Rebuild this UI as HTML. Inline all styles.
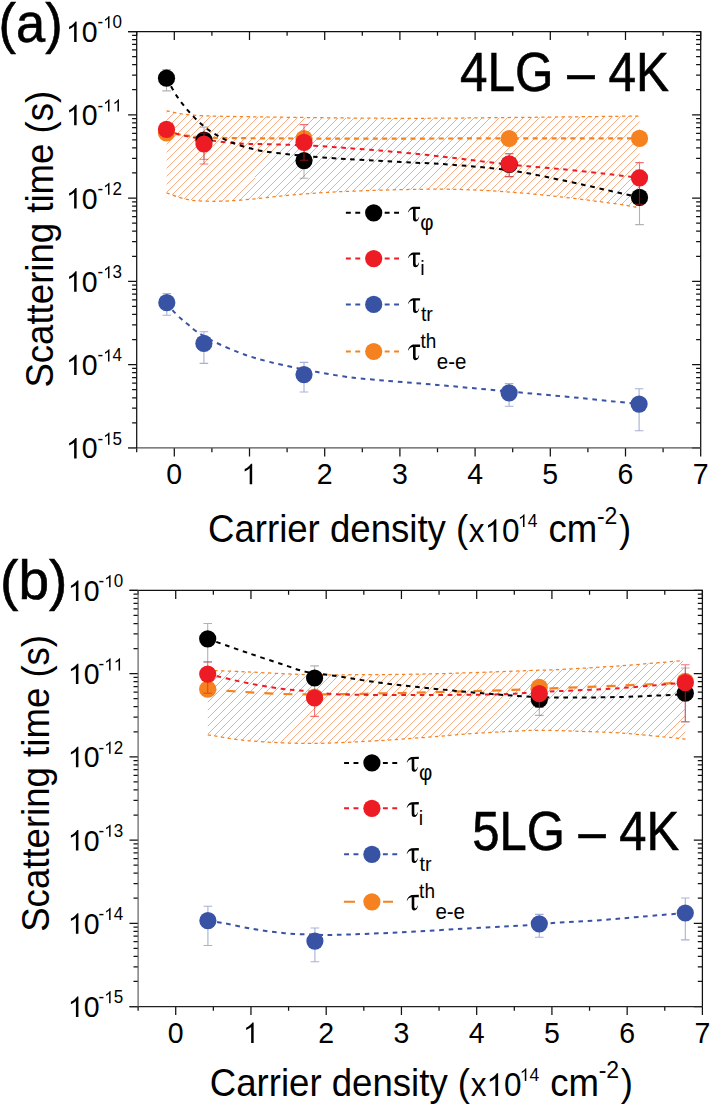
<!DOCTYPE html><html><head><meta charset="utf-8"><style>html,body{margin:0;padding:0;background:#fff;}svg{display:block;}text{font-family:"Liberation Sans", sans-serif;fill:#000;}</style></head><body>
<svg width="711" height="1106" viewBox="0 0 711 1106">
<defs><path id="one" d="M763,0H583V1147C535,1101 472,1055 394,1009C316,963 259,936 223,921V1095C330,1145 424,1206 505,1277C586,1348 643,1413 676,1472H763Z"/></defs>
<path d="M128.10,31.50H136.70 M692.10,31.50H700.70 M132.10,89.71H136.70 M696.10,89.71H700.70 M132.10,75.05H136.70 M696.10,75.05H700.70 M132.10,64.64H136.70 M696.10,64.64H700.70 M132.10,56.57H136.70 M696.10,56.57H700.70 M132.10,49.98H136.70 M696.10,49.98H700.70 M132.10,44.40H136.70 M696.10,44.40H700.70 M132.10,39.57H136.70 M696.10,39.57H700.70 M132.10,35.31H136.70 M696.10,35.31H700.70 M128.10,114.78H136.70 M692.10,114.78H700.70 M132.10,172.99H136.70 M696.10,172.99H700.70 M132.10,158.33H136.70 M696.10,158.33H700.70 M132.10,147.92H136.70 M696.10,147.92H700.70 M132.10,139.85H136.70 M696.10,139.85H700.70 M132.10,133.26H136.70 M696.10,133.26H700.70 M132.10,127.68H136.70 M696.10,127.68H700.70 M132.10,122.85H136.70 M696.10,122.85H700.70 M132.10,118.59H136.70 M696.10,118.59H700.70 M128.10,198.06H136.70 M692.10,198.06H700.70 M132.10,256.27H136.70 M696.10,256.27H700.70 M132.10,241.61H136.70 M696.10,241.61H700.70 M132.10,231.20H136.70 M696.10,231.20H700.70 M132.10,223.13H136.70 M696.10,223.13H700.70 M132.10,216.54H136.70 M696.10,216.54H700.70 M132.10,210.96H136.70 M696.10,210.96H700.70 M132.10,206.13H136.70 M696.10,206.13H700.70 M132.10,201.87H136.70 M696.10,201.87H700.70 M128.10,281.34H136.70 M692.10,281.34H700.70 M132.10,339.55H136.70 M696.10,339.55H700.70 M132.10,324.89H136.70 M696.10,324.89H700.70 M132.10,314.48H136.70 M696.10,314.48H700.70 M132.10,306.41H136.70 M696.10,306.41H700.70 M132.10,299.82H136.70 M696.10,299.82H700.70 M132.10,294.24H136.70 M696.10,294.24H700.70 M132.10,289.41H136.70 M696.10,289.41H700.70 M132.10,285.15H136.70 M696.10,285.15H700.70 M128.10,364.62H136.70 M692.10,364.62H700.70 M132.10,422.83H136.70 M696.10,422.83H700.70 M132.10,408.17H136.70 M696.10,408.17H700.70 M132.10,397.76H136.70 M696.10,397.76H700.70 M132.10,389.69H136.70 M696.10,389.69H700.70 M132.10,383.10H136.70 M696.10,383.10H700.70 M132.10,377.52H136.70 M696.10,377.52H700.70 M132.10,372.69H136.70 M696.10,372.69H700.70 M132.10,368.43H136.70 M696.10,368.43H700.70 M128.10,447.90H136.70 M692.10,447.90H700.70 M136.70,31.50V35.80 M136.70,447.90V452.20 M174.30,31.50V40.10 M174.30,447.90V456.50 M211.90,31.50V35.80 M211.90,447.90V452.20 M249.50,31.50V40.10 M249.50,447.90V456.50 M287.10,31.50V35.80 M287.10,447.90V452.20 M324.70,31.50V40.10 M324.70,447.90V456.50 M362.30,31.50V35.80 M362.30,447.90V452.20 M399.90,31.50V40.10 M399.90,447.90V456.50 M437.50,31.50V35.80 M437.50,447.90V452.20 M475.10,31.50V40.10 M475.10,447.90V456.50 M512.70,31.50V35.80 M512.70,447.90V452.20 M550.30,31.50V40.10 M550.30,447.90V456.50 M587.90,31.50V35.80 M587.90,447.90V452.20 M625.50,31.50V40.10 M625.50,447.90V456.50 M663.10,31.50V35.80 M663.10,447.90V452.20 M700.70,31.50V40.10 M700.70,447.90V456.50" fill="none" stroke="#111" stroke-width="1.25"/>
<path d="M128.10,31.50H700.70V447.90" fill="none" stroke="#111" stroke-width="1.25"/>
<path d="M128.10,447.90H700.70" fill="none" stroke="#555" stroke-width="1.25"/>
<path d="M136.70,31.50V447.90" fill="none" stroke="#111" stroke-width="1.25"/>
<clipPath id="cliphatchA"><path d="M166.60,110.80C171.17,111.53 178.43,114.18 194.00,115.20C209.57,116.22 225.67,116.38 260.00,116.90C294.33,117.42 356.67,118.22 400.00,118.30C443.33,118.38 480.08,117.78 520.00,117.40C559.92,117.02 619.58,116.23 639.50,116.00L639.50,207.90C635.75,207.25 630.58,205.88 617.00,204.00C603.42,202.12 577.67,198.72 558.00,196.60C538.33,194.48 518.67,192.53 499.00,191.30C479.33,190.07 462.50,189.30 440.00,189.20C417.50,189.10 387.00,189.88 364.00,190.70C341.00,191.52 322.67,192.52 302.00,194.10C281.33,195.68 256.00,199.02 240.00,200.20C224.00,201.38 215.17,201.40 206.00,201.20C196.83,201.00 191.57,200.40 185.00,199.00C178.43,197.60 169.67,193.83 166.60,192.80Z"/></clipPath>
<path d="M153.81,108.80L52.71,209.90M161.86,108.80L60.76,209.90M169.90,108.80L68.80,209.90M177.94,108.80L76.84,209.90M185.98,108.80L84.88,209.90M194.03,108.80L92.93,209.90M202.07,108.80L100.97,209.90M210.11,108.80L109.01,209.90M218.16,108.80L117.06,209.90M226.20,108.80L125.10,209.90M234.24,108.80L133.14,209.90M242.29,108.80L141.19,209.90M250.33,108.80L149.23,209.90M258.37,108.80L157.27,209.90M266.41,108.80L165.31,209.90M274.46,108.80L173.36,209.90M282.50,108.80L181.40,209.90M290.54,108.80L189.44,209.90M298.59,108.80L197.49,209.90M306.63,108.80L205.53,209.90M314.67,108.80L213.57,209.90M322.71,108.80L221.61,209.90M330.76,108.80L229.66,209.90M338.80,108.80L237.70,209.90M346.84,108.80L245.74,209.90M354.89,108.80L253.79,209.90M362.93,108.80L261.83,209.90M370.97,108.80L269.87,209.90M379.02,108.80L277.92,209.90M387.06,108.80L285.96,209.90M395.10,108.80L294.00,209.90M403.14,108.80L302.04,209.90M411.19,108.80L310.09,209.90M419.23,108.80L318.13,209.90M427.27,108.80L326.17,209.90M435.32,108.80L334.22,209.90M443.36,108.80L342.26,209.90M451.40,108.80L350.30,209.90M459.45,108.80L358.35,209.90M467.49,108.80L366.39,209.90M475.53,108.80L374.43,209.90M483.57,108.80L382.48,209.90M491.62,108.80L390.52,209.90M499.66,108.80L398.56,209.90M507.70,108.80L406.60,209.90M515.75,108.80L414.65,209.90M523.79,108.80L422.69,209.90M531.83,108.80L430.73,209.90M539.88,108.80L438.78,209.90M547.92,108.80L446.82,209.90M555.96,108.80L454.86,209.90M564.01,108.80L462.91,209.90M572.05,108.80L470.95,209.90M580.09,108.80L478.99,209.90M588.13,108.80L487.03,209.90M596.18,108.80L495.08,209.90M604.22,108.80L503.12,209.90M612.26,108.80L511.16,209.90M620.31,108.80L519.21,209.90M628.35,108.80L527.25,209.90M636.39,108.80L535.29,209.90M644.43,108.80L543.33,209.90M652.48,108.80L551.38,209.90M660.52,108.80L559.42,209.90M668.56,108.80L567.46,209.90M676.61,108.80L575.51,209.90M684.65,108.80L583.55,209.90M692.69,108.80L591.59,209.90M700.74,108.80L599.64,209.90M708.78,108.80L607.68,209.90M716.82,108.80L615.72,209.90M724.87,108.80L623.76,209.90M732.91,108.80L631.81,209.90M740.95,108.80L639.85,209.90" clip-path="url(#cliphatchA)" fill="none" stroke="#F27531" stroke-width="0.6" shape-rendering="crispEdges"/>
<path d="M166.60,110.80C171.17,111.53 178.43,114.18 194.00,115.20C209.57,116.22 225.67,116.38 260.00,116.90C294.33,117.42 356.67,118.22 400.00,118.30C443.33,118.38 480.08,117.78 520.00,117.40C559.92,117.02 619.58,116.23 639.50,116.00" fill="none" stroke="#F5821F" stroke-width="1.25" stroke-dasharray="3.3 3.4"/>
<path d="M166.60,192.80C169.67,193.83 178.43,197.60 185.00,199.00C191.57,200.40 196.83,201.00 206.00,201.20C215.17,201.40 224.00,201.38 240.00,200.20C256.00,199.02 281.33,195.68 302.00,194.10C322.67,192.52 341.00,191.52 364.00,190.70C387.00,189.88 417.50,189.10 440.00,189.20C462.50,189.30 479.33,190.07 499.00,191.30C518.67,192.53 538.33,194.48 558.00,196.60C577.67,198.72 603.42,202.12 617.00,204.00C630.58,205.88 635.75,207.25 639.50,207.90" fill="none" stroke="#F5821F" stroke-width="1.25" stroke-dasharray="3.3 3.4"/>
<path d="M166.50,132.40C170.42,133.00 181.92,135.10 190.00,136.00C198.08,136.90 191.67,137.37 215.00,137.80C238.33,138.23 281.00,138.50 330.00,138.60C379.00,138.70 457.42,138.43 509.00,138.40C560.58,138.37 617.75,138.40 639.50,138.40" fill="none" stroke="#F5821F" stroke-width="2.2" stroke-dasharray="5 4.4"/>
<path d="M166.50,129.30C167.82,129.92 170.70,131.78 174.40,133.00C178.10,134.22 181.53,135.22 188.70,136.60C195.87,137.98 208.23,140.12 217.40,141.30C226.57,142.48 235.32,143.22 243.70,143.70C252.08,144.18 259.32,143.98 267.70,144.20C276.08,144.42 283.62,144.57 294.00,145.00C304.38,145.43 312.33,145.58 330.00,146.80C347.67,148.02 380.00,150.52 400.00,152.30C420.00,154.08 431.83,155.47 450.00,157.50C468.17,159.53 490.67,162.58 509.00,164.50C527.33,166.42 541.50,167.17 560.00,169.00C578.50,170.83 606.75,174.03 620.00,175.50C633.25,176.97 636.25,177.42 639.50,177.80" fill="none" stroke="#ED1C24" stroke-width="2.0" stroke-dasharray="4.6 4.7"/>
<path d="M166.50,78.20C168.20,81.15 173.00,90.37 176.70,95.90C180.40,101.43 184.50,106.62 188.70,111.40C192.90,116.18 197.52,120.80 201.90,124.60C206.28,128.40 210.02,131.22 215.00,134.20C219.98,137.18 225.02,139.92 231.80,142.50C238.58,145.08 247.73,147.90 255.70,149.70C263.67,151.50 271.55,152.28 279.60,153.30C287.65,154.32 295.60,155.02 304.00,155.80C312.40,156.58 314.00,156.98 330.00,158.00C346.00,159.02 380.00,160.80 400.00,161.90C420.00,163.00 431.83,163.22 450.00,164.60C468.17,165.98 490.67,167.67 509.00,170.20C527.33,172.73 541.50,176.00 560.00,179.80C578.50,183.60 606.75,190.07 620.00,193.00C633.25,195.93 636.25,196.67 639.50,197.40" fill="none" stroke="#000" stroke-width="2.0" stroke-dasharray="4.6 4.7"/>
<path d="M166.80,302.70C167.78,303.98 170.32,307.72 172.70,310.40C175.08,313.08 178.53,316.45 181.10,318.80C183.67,321.15 185.52,322.38 188.10,324.50C190.68,326.62 192.38,328.70 196.60,331.50C200.82,334.30 206.60,337.90 213.40,341.30C220.20,344.70 230.13,349.03 237.40,351.90C244.67,354.77 249.27,356.27 257.00,358.50C264.73,360.73 273.72,363.03 283.80,365.30C293.88,367.57 307.67,370.27 317.50,372.10C327.33,373.93 334.37,375.12 342.80,376.30C351.23,377.48 352.40,377.77 368.10,379.20C383.80,380.63 413.52,382.85 437.00,384.90C460.48,386.95 485.17,389.32 509.00,391.50C532.83,393.68 558.32,395.90 580.00,398.00C601.68,400.10 629.25,403.08 639.10,404.10" fill="none" stroke="#3953A4" stroke-width="2.0" stroke-dasharray="4.6 4.7"/>
<circle cx="166.50" cy="133.00" r="8.6" fill="#F5821F"/>
<circle cx="304.00" cy="138.60" r="8.6" fill="#F5821F"/>
<circle cx="509.20" cy="138.50" r="8.6" fill="#F5821F"/>
<circle cx="639.50" cy="138.40" r="8.6" fill="#F5821F"/>
<path d="M166.50,69.50V90.90M162.20,69.50H170.80M162.20,90.90H170.80" fill="none" stroke="#000" stroke-opacity="0.3" stroke-width="1.1"/>
<circle cx="166.50" cy="78.20" r="8.6" fill="#000"/>
<path d="M204.00,127.10V159.40M199.70,127.10H208.30M199.70,159.40H208.30" fill="none" stroke="#000" stroke-opacity="0.3" stroke-width="1.1"/>
<circle cx="204.00" cy="140.20" r="8.6" fill="#000"/>
<path d="M304.00,143.00V178.20M299.70,143.00H308.30M299.70,178.20H308.30" fill="none" stroke="#000" stroke-opacity="0.3" stroke-width="1.1"/>
<circle cx="304.00" cy="160.60" r="8.6" fill="#000"/>
<path d="M509.20,153.70V176.60M504.90,153.70H513.50M504.90,176.60H513.50" fill="none" stroke="#000" stroke-opacity="0.3" stroke-width="1.1"/>
<circle cx="509.20" cy="164.30" r="8.6" fill="#000"/>
<path d="M639.50,170.00V224.60M635.20,170.00H643.80M635.20,224.60H643.80" fill="none" stroke="#000" stroke-opacity="0.3" stroke-width="1.1"/>
<circle cx="639.50" cy="197.40" r="8.6" fill="#000"/>
<circle cx="166.50" cy="129.30" r="8.6" fill="#ED1C24"/>
<path d="M204.00,133.00V164.00M199.70,133.00H208.30M199.70,164.00H208.30" fill="none" stroke="#ED1C24" stroke-opacity="0.62" stroke-width="1.1"/>
<circle cx="204.00" cy="144.00" r="8.6" fill="#ED1C24"/>
<path d="M304.00,124.60V160.20M299.70,124.60H308.30M299.70,160.20H308.30" fill="none" stroke="#ED1C24" stroke-opacity="0.62" stroke-width="1.1"/>
<circle cx="304.00" cy="142.40" r="8.6" fill="#ED1C24"/>
<path d="M509.20,153.70V176.60M504.90,153.70H513.50M504.90,176.60H513.50" fill="none" stroke="#ED1C24" stroke-opacity="0.62" stroke-width="1.1"/>
<circle cx="509.20" cy="163.80" r="8.6" fill="#ED1C24"/>
<path d="M639.50,162.60V204.30M635.20,162.60H643.80M635.20,204.30H643.80" fill="none" stroke="#ED1C24" stroke-opacity="0.62" stroke-width="1.1"/>
<circle cx="639.50" cy="177.80" r="8.6" fill="#ED1C24"/>
<path d="M166.80,293.50V315.30M162.50,293.50H171.10M162.50,315.30H171.10" fill="none" stroke="#3953A4" stroke-opacity="0.45" stroke-width="1.1"/>
<circle cx="166.80" cy="302.70" r="8.6" fill="#3953A4"/>
<path d="M203.90,331.80V363.40M199.60,331.80H208.20M199.60,363.40H208.20" fill="none" stroke="#3953A4" stroke-opacity="0.45" stroke-width="1.1"/>
<circle cx="203.90" cy="343.40" r="8.6" fill="#3953A4"/>
<path d="M304.00,362.40V392.00M299.70,362.40H308.30M299.70,392.00H308.30" fill="none" stroke="#3953A4" stroke-opacity="0.45" stroke-width="1.1"/>
<circle cx="304.00" cy="374.60" r="8.6" fill="#3953A4"/>
<path d="M509.10,383.60V406.30M504.80,383.60H513.40M504.80,406.30H513.40" fill="none" stroke="#3953A4" stroke-opacity="0.45" stroke-width="1.1"/>
<circle cx="509.10" cy="392.80" r="8.6" fill="#3953A4"/>
<path d="M639.10,388.80V430.70M634.80,388.80H643.40M634.80,430.70H643.40" fill="none" stroke="#3953A4" stroke-opacity="0.45" stroke-width="1.1"/>
<circle cx="639.10" cy="404.10" r="8.6" fill="#3953A4"/>
<path d="M129.50,590.40H138.10 M693.80,590.40H702.40 M133.50,648.57H138.10 M697.80,648.57H702.40 M133.50,633.91H138.10 M697.80,633.91H702.40 M133.50,623.52H138.10 M697.80,623.52H702.40 M133.50,615.45H138.10 M697.80,615.45H702.40 M133.50,608.86H138.10 M697.80,608.86H702.40 M133.50,603.29H138.10 M697.80,603.29H702.40 M133.50,598.46H138.10 M697.80,598.46H702.40 M133.50,594.21H138.10 M697.80,594.21H702.40 M129.50,673.62H138.10 M693.80,673.62H702.40 M133.50,731.79H138.10 M697.80,731.79H702.40 M133.50,717.13H138.10 M697.80,717.13H702.40 M133.50,706.74H138.10 M697.80,706.74H702.40 M133.50,698.67H138.10 M697.80,698.67H702.40 M133.50,692.08H138.10 M697.80,692.08H702.40 M133.50,686.51H138.10 M697.80,686.51H702.40 M133.50,681.68H138.10 M697.80,681.68H702.40 M133.50,677.43H138.10 M697.80,677.43H702.40 M129.50,756.84H138.10 M693.80,756.84H702.40 M133.50,815.01H138.10 M697.80,815.01H702.40 M133.50,800.35H138.10 M697.80,800.35H702.40 M133.50,789.96H138.10 M697.80,789.96H702.40 M133.50,781.89H138.10 M697.80,781.89H702.40 M133.50,775.30H138.10 M697.80,775.30H702.40 M133.50,769.73H138.10 M697.80,769.73H702.40 M133.50,764.90H138.10 M697.80,764.90H702.40 M133.50,760.65H138.10 M697.80,760.65H702.40 M129.50,840.06H138.10 M693.80,840.06H702.40 M133.50,898.23H138.10 M697.80,898.23H702.40 M133.50,883.57H138.10 M697.80,883.57H702.40 M133.50,873.18H138.10 M697.80,873.18H702.40 M133.50,865.11H138.10 M697.80,865.11H702.40 M133.50,858.52H138.10 M697.80,858.52H702.40 M133.50,852.95H138.10 M697.80,852.95H702.40 M133.50,848.12H138.10 M697.80,848.12H702.40 M133.50,843.87H138.10 M697.80,843.87H702.40 M129.50,923.28H138.10 M693.80,923.28H702.40 M133.50,981.45H138.10 M697.80,981.45H702.40 M133.50,966.79H138.10 M697.80,966.79H702.40 M133.50,956.40H138.10 M697.80,956.40H702.40 M133.50,948.33H138.10 M697.80,948.33H702.40 M133.50,941.74H138.10 M697.80,941.74H702.40 M133.50,936.17H138.10 M697.80,936.17H702.40 M133.50,931.34H138.10 M697.80,931.34H702.40 M133.50,927.09H138.10 M697.80,927.09H702.40 M129.50,1006.50H138.10 M693.80,1006.50H702.40 M138.10,590.40V594.70 M138.10,1006.50V1010.80 M175.72,590.40V599.00 M175.72,1006.50V1015.10 M213.34,590.40V594.70 M213.34,1006.50V1010.80 M250.96,590.40V599.00 M250.96,1006.50V1015.10 M288.58,590.40V594.70 M288.58,1006.50V1010.80 M326.20,590.40V599.00 M326.20,1006.50V1015.10 M363.82,590.40V594.70 M363.82,1006.50V1010.80 M401.44,590.40V599.00 M401.44,1006.50V1015.10 M439.06,590.40V594.70 M439.06,1006.50V1010.80 M476.68,590.40V599.00 M476.68,1006.50V1015.10 M514.30,590.40V594.70 M514.30,1006.50V1010.80 M551.92,590.40V599.00 M551.92,1006.50V1015.10 M589.54,590.40V594.70 M589.54,1006.50V1010.80 M627.16,590.40V599.00 M627.16,1006.50V1015.10 M664.78,590.40V594.70 M664.78,1006.50V1010.80 M702.40,590.40V599.00 M702.40,1006.50V1015.10" fill="none" stroke="#111" stroke-width="1.25"/>
<path d="M129.50,590.40H702.40V1006.50" fill="none" stroke="#111" stroke-width="1.25"/>
<path d="M129.50,1006.50H702.40" fill="none" stroke="#222" stroke-width="1.25"/>
<path d="M138.10,590.40V1006.50" fill="none" stroke="#666" stroke-width="1.25"/>
<clipPath id="cliphatchB"><path d="M207.80,670.30C214.42,670.57 233.38,671.27 247.50,671.90C261.62,672.53 278.75,673.62 292.50,674.10C306.25,674.58 307.08,674.83 330.00,674.80C352.92,674.77 396.67,674.62 430.00,673.90C463.33,673.18 508.33,671.23 530.00,670.50C551.67,669.77 545.00,670.28 560.00,669.50C575.00,668.72 599.50,667.28 620.00,665.80C640.50,664.32 672.50,661.47 683.00,660.60L685.50,739.10C682.08,738.75 675.92,738.02 665.00,737.00C654.08,735.98 635.00,733.97 620.00,733.00C605.00,732.03 588.33,731.65 575.00,731.20C561.67,730.75 550.00,730.30 540.00,730.30C530.00,730.30 526.67,730.63 515.00,731.20C503.33,731.77 485.00,732.65 470.00,733.70C455.00,734.75 442.17,736.23 425.00,737.50C407.83,738.77 386.50,740.32 367.00,741.30C347.50,742.28 327.67,743.48 308.00,743.40C288.33,743.32 265.70,742.23 249.00,740.80C232.30,739.37 214.67,735.80 207.80,734.80Z"/></clipPath>
<path d="M195.02,658.60L108.22,745.40M203.06,658.60L116.26,745.40M211.10,658.60L124.30,745.40M219.15,658.60L132.35,745.40M227.19,658.60L140.39,745.40M235.23,658.60L148.43,745.40M243.27,658.60L156.48,745.40M251.32,658.60L164.52,745.40M259.36,658.60L172.56,745.40M267.40,658.60L180.60,745.40M275.45,658.60L188.65,745.40M283.49,658.60L196.69,745.40M291.53,658.60L204.73,745.40M299.58,658.60L212.78,745.40M307.62,658.60L220.82,745.40M315.66,658.60L228.86,745.40M323.71,658.60L236.91,745.40M331.75,658.60L244.95,745.40M339.79,658.60L252.99,745.40M347.83,658.60L261.03,745.40M355.88,658.60L269.08,745.40M363.92,658.60L277.12,745.40M371.96,658.60L285.16,745.40M380.01,658.60L293.21,745.40M388.05,658.60L301.25,745.40M396.09,658.60L309.29,745.40M404.14,658.60L317.34,745.40M412.18,658.60L325.38,745.40M420.22,658.60L333.42,745.40M428.26,658.60L341.46,745.40M436.31,658.60L349.51,745.40M444.35,658.60L357.55,745.40M452.39,658.60L365.59,745.40M460.44,658.60L373.64,745.40M468.48,658.60L381.68,745.40M476.52,658.60L389.72,745.40M484.56,658.60L397.76,745.40M492.61,658.60L405.81,745.40M500.65,658.60L413.85,745.40M508.69,658.60L421.89,745.40M516.74,658.60L429.94,745.40M524.78,658.60L437.98,745.40M532.82,658.60L446.02,745.40M540.87,658.60L454.07,745.40M548.91,658.60L462.11,745.40M556.95,658.60L470.15,745.40M565.00,658.60L478.20,745.40M573.04,658.60L486.24,745.40M581.08,658.60L494.28,745.40M589.12,658.60L502.32,745.40M597.17,658.60L510.37,745.40M605.21,658.60L518.41,745.40M613.25,658.60L526.45,745.40M621.30,658.60L534.50,745.40M629.34,658.60L542.54,745.40M637.38,658.60L550.58,745.40M645.43,658.60L558.63,745.40M653.47,658.60L566.67,745.40M661.51,658.60L574.71,745.40M669.55,658.60L582.75,745.40M677.60,658.60L590.80,745.40M685.64,658.60L598.84,745.40M693.68,658.60L606.88,745.40M701.73,658.60L614.93,745.40M709.77,658.60L622.97,745.40M717.81,658.60L631.01,745.40M725.85,658.60L639.05,745.40M733.90,658.60L647.10,745.40M741.94,658.60L655.14,745.40M749.98,658.60L663.18,745.40M758.03,658.60L671.23,745.40M766.07,658.60L679.27,745.40M774.11,658.60L687.31,745.40" clip-path="url(#cliphatchB)" fill="none" stroke="#F27531" stroke-width="0.6" shape-rendering="crispEdges"/>
<path d="M207.80,670.30C214.42,670.57 233.38,671.27 247.50,671.90C261.62,672.53 278.75,673.62 292.50,674.10C306.25,674.58 307.08,674.83 330.00,674.80C352.92,674.77 396.67,674.62 430.00,673.90C463.33,673.18 508.33,671.23 530.00,670.50C551.67,669.77 545.00,670.28 560.00,669.50C575.00,668.72 599.50,667.28 620.00,665.80C640.50,664.32 672.50,661.47 683.00,660.60" fill="none" stroke="#F5821F" stroke-width="1.25" stroke-dasharray="3.3 3.4"/>
<path d="M207.80,734.80C214.67,735.80 232.30,739.37 249.00,740.80C265.70,742.23 288.33,743.32 308.00,743.40C327.67,743.48 347.50,742.28 367.00,741.30C386.50,740.32 407.83,738.77 425.00,737.50C442.17,736.23 455.00,734.75 470.00,733.70C485.00,732.65 503.33,731.77 515.00,731.20C526.67,730.63 530.00,730.30 540.00,730.30C550.00,730.30 561.67,730.75 575.00,731.20C588.33,731.65 605.00,732.03 620.00,733.00C635.00,733.97 654.08,735.98 665.00,737.00C675.92,738.02 682.08,738.75 685.50,739.10" fill="none" stroke="#F5821F" stroke-width="1.25" stroke-dasharray="3.3 3.4"/>
<path d="M207.70,689.20C211.42,689.50 214.62,690.13 230.00,691.00C245.38,691.87 271.67,694.07 300.00,694.40C328.33,694.73 366.67,693.68 400.00,693.00C433.33,692.32 463.33,691.53 500.00,690.30C536.67,689.07 589.15,686.90 620.00,685.60C650.85,684.30 674.25,683.02 685.10,682.50" fill="none" stroke="#F5821F" stroke-width="2.2" stroke-dasharray="9 10"/>
<path d="M207.70,674.10C209.42,674.48 211.37,674.90 218.00,676.40C224.63,677.90 236.95,681.03 247.50,683.10C258.05,685.17 271.55,687.48 281.30,688.80C291.05,690.12 296.22,690.07 306.00,691.00C315.78,691.93 321.00,693.73 340.00,694.40C359.00,695.07 393.33,695.02 420.00,695.00C446.67,694.98 480.12,694.80 500.00,694.30C519.88,693.80 519.30,693.03 539.30,692.00C559.30,690.97 595.70,689.68 620.00,688.10C644.30,686.52 674.25,683.43 685.10,682.50" fill="none" stroke="#ED1C24" stroke-width="2.0" stroke-dasharray="4.6 4.7"/>
<path d="M207.70,638.80C209.47,639.43 211.67,640.27 218.30,642.60C224.93,644.93 237.00,649.23 247.50,652.80C258.00,656.37 271.55,660.82 281.30,664.00C291.05,667.18 297.88,670.05 306.00,671.90C314.12,673.75 317.67,673.30 330.00,675.10C342.33,676.90 363.33,680.50 380.00,682.70C396.67,684.90 413.33,686.57 430.00,688.30C446.67,690.03 463.33,691.70 480.00,693.10C496.67,694.50 516.67,695.97 530.00,696.70C543.33,697.43 545.00,697.45 560.00,697.50C575.00,697.55 599.15,697.53 620.00,697.00C640.85,696.47 674.25,694.75 685.10,694.30" fill="none" stroke="#000" stroke-width="2.0" stroke-dasharray="4.6 4.7"/>
<path d="M207.90,920.60C210.18,920.95 214.03,921.30 221.60,922.70C229.17,924.10 242.75,927.25 253.30,929.00C263.85,930.75 274.35,932.25 284.90,933.20C295.45,934.15 307.42,934.45 316.60,934.70C325.78,934.95 326.10,935.08 340.00,934.70C353.90,934.32 376.67,933.57 400.00,932.40C423.33,931.23 460.00,928.82 480.00,927.70C500.00,926.58 506.67,926.57 520.00,925.70C533.33,924.83 546.67,923.42 560.00,922.50C573.33,921.58 586.67,921.15 600.00,920.20C613.33,919.25 625.78,918.00 640.00,916.80C654.22,915.60 677.75,913.63 685.30,913.00" fill="none" stroke="#3953A4" stroke-width="2.0" stroke-dasharray="4.6 4.7"/>
<circle cx="207.70" cy="689.20" r="8.6" fill="#F5821F"/>
<circle cx="314.60" cy="697.20" r="8.6" fill="#F5821F"/>
<circle cx="539.30" cy="687.30" r="8.6" fill="#F5821F"/>
<circle cx="685.30" cy="681.40" r="8.6" fill="#F5821F"/>
<path d="M207.70,623.50V662.20M203.40,623.50H212.00M203.40,662.20H212.00" fill="none" stroke="#000" stroke-opacity="0.3" stroke-width="1.1"/>
<circle cx="207.70" cy="638.80" r="8.6" fill="#000"/>
<path d="M314.60,665.90V692.00M310.30,665.90H318.90M310.30,692.00H318.90" fill="none" stroke="#000" stroke-opacity="0.3" stroke-width="1.1"/>
<circle cx="314.60" cy="678.00" r="8.6" fill="#000"/>
<path d="M539.30,692.00V715.40M535.00,692.00H543.60M535.00,715.40H543.60" fill="none" stroke="#000" stroke-opacity="0.3" stroke-width="1.1"/>
<circle cx="539.30" cy="699.40" r="8.6" fill="#000"/>
<path d="M685.30,668.00V722.00M681.00,668.00H689.60M681.00,722.00H689.60" fill="none" stroke="#000" stroke-opacity="0.3" stroke-width="1.1"/>
<circle cx="685.30" cy="693.20" r="8.6" fill="#000"/>
<path d="M207.70,661.80V693.30M203.40,661.80H212.00M203.40,693.30H212.00" fill="none" stroke="#ED1C24" stroke-opacity="0.62" stroke-width="1.1"/>
<circle cx="207.70" cy="674.10" r="8.6" fill="#ED1C24"/>
<path d="M314.60,692.00V716.40M310.30,692.00H318.90M310.30,716.40H318.90" fill="none" stroke="#ED1C24" stroke-opacity="0.62" stroke-width="1.1"/>
<circle cx="314.60" cy="698.00" r="8.6" fill="#ED1C24"/>
<path d="M539.30,688.00V707.50M535.00,688.00H543.60M535.00,707.50H543.60" fill="none" stroke="#ED1C24" stroke-opacity="0.62" stroke-width="1.1"/>
<circle cx="539.30" cy="693.70" r="8.6" fill="#ED1C24"/>
<path d="M685.30,664.80V721.80M681.00,664.80H689.60M681.00,721.80H689.60" fill="none" stroke="#ED1C24" stroke-opacity="0.62" stroke-width="1.1"/>
<circle cx="685.30" cy="682.70" r="8.6" fill="#ED1C24"/>
<path d="M207.90,906.20V945.50M203.60,906.20H212.20M203.60,945.50H212.20" fill="none" stroke="#3953A4" stroke-opacity="0.45" stroke-width="1.1"/>
<circle cx="207.90" cy="920.60" r="8.6" fill="#3953A4"/>
<path d="M314.90,928.00V961.80M310.60,928.00H319.20M310.60,961.80H319.20" fill="none" stroke="#3953A4" stroke-opacity="0.45" stroke-width="1.1"/>
<circle cx="314.90" cy="941.10" r="8.6" fill="#3953A4"/>
<path d="M539.30,914.40V937.20M535.00,914.40H543.60M535.00,937.20H543.60" fill="none" stroke="#3953A4" stroke-opacity="0.45" stroke-width="1.1"/>
<circle cx="539.30" cy="923.80" r="8.6" fill="#3953A4"/>
<path d="M685.30,898.00V939.90M681.00,898.00H689.60M681.00,939.90H689.60" fill="none" stroke="#3953A4" stroke-opacity="0.45" stroke-width="1.1"/>
<circle cx="685.30" cy="913.00" r="8.6" fill="#3953A4"/>
<text transform="translate(66.00,42.00) scale(1.0000,1.0400)" x="15.85" y="0" font-size="28.5" style="font-family:'Liberation Sans', sans-serif" fill="#000">0</text>
<use href="#one" transform="translate(66.00,42.00) scale(0.01392,-0.01392)" fill="#000"/>
<text transform="translate(97.50,28.30) scale(1.0000,1.0400)" x="0.00 15.12" y="0" font-size="17" style="font-family:'Liberation Sans', sans-serif" fill="#000">-0</text>
<use href="#one" transform="translate(103.16,28.30) scale(0.00830,-0.00830)" fill="#000"/>
<text transform="translate(66.00,125.28) scale(1.0000,1.0400)" x="15.85" y="0" font-size="28.5" style="font-family:'Liberation Sans', sans-serif" fill="#000">0</text>
<use href="#one" transform="translate(66.00,125.28) scale(0.01392,-0.01392)" fill="#000"/>
<text transform="translate(97.50,111.58) scale(1.0000,1.0400)" x="0.00" y="0" font-size="17" style="font-family:'Liberation Sans', sans-serif" fill="#000">-</text>
<use href="#one" transform="translate(103.16,111.58) scale(0.00830,-0.00830)" fill="#000"/>
<use href="#one" transform="translate(112.62,111.58) scale(0.00830,-0.00830)" fill="#000"/>
<text transform="translate(66.00,208.56) scale(1.0000,1.0400)" x="15.85" y="0" font-size="28.5" style="font-family:'Liberation Sans', sans-serif" fill="#000">0</text>
<use href="#one" transform="translate(66.00,208.56) scale(0.01392,-0.01392)" fill="#000"/>
<text transform="translate(97.50,194.86) scale(1.0000,1.0400)" x="0.00 15.12" y="0" font-size="17" style="font-family:'Liberation Sans', sans-serif" fill="#000">-2</text>
<use href="#one" transform="translate(103.16,194.86) scale(0.00830,-0.00830)" fill="#000"/>
<text transform="translate(66.00,291.84) scale(1.0000,1.0400)" x="15.85" y="0" font-size="28.5" style="font-family:'Liberation Sans', sans-serif" fill="#000">0</text>
<use href="#one" transform="translate(66.00,291.84) scale(0.01392,-0.01392)" fill="#000"/>
<text transform="translate(97.50,278.14) scale(1.0000,1.0400)" x="0.00 15.12" y="0" font-size="17" style="font-family:'Liberation Sans', sans-serif" fill="#000">-3</text>
<use href="#one" transform="translate(103.16,278.14) scale(0.00830,-0.00830)" fill="#000"/>
<text transform="translate(66.00,375.12) scale(1.0000,1.0400)" x="15.85" y="0" font-size="28.5" style="font-family:'Liberation Sans', sans-serif" fill="#000">0</text>
<use href="#one" transform="translate(66.00,375.12) scale(0.01392,-0.01392)" fill="#000"/>
<text transform="translate(97.50,361.42) scale(1.0000,1.0400)" x="0.00 15.12" y="0" font-size="17" style="font-family:'Liberation Sans', sans-serif" fill="#000">-4</text>
<use href="#one" transform="translate(103.16,361.42) scale(0.00830,-0.00830)" fill="#000"/>
<text transform="translate(66.00,458.40) scale(1.0000,1.0400)" x="15.85" y="0" font-size="28.5" style="font-family:'Liberation Sans', sans-serif" fill="#000">0</text>
<use href="#one" transform="translate(66.00,458.40) scale(0.01392,-0.01392)" fill="#000"/>
<text transform="translate(97.50,444.70) scale(1.0000,1.0400)" x="0.00 15.12" y="0" font-size="17" style="font-family:'Liberation Sans', sans-serif" fill="#000">-5</text>
<use href="#one" transform="translate(103.16,444.70) scale(0.00830,-0.00830)" fill="#000"/>
<text transform="translate(166.37,484.30) scale(1.0000,1.0400)" font-size="28.5" style="font-family:'Liberation Sans', sans-serif" fill="#000">0</text>
<use href="#one" transform="translate(241.57,484.30) scale(0.01392,-0.01392)" fill="#000"/>
<text transform="translate(316.77,484.30) scale(1.0000,1.0400)" font-size="28.5" style="font-family:'Liberation Sans', sans-serif" fill="#000">2</text>
<text transform="translate(391.97,484.30) scale(1.0000,1.0400)" font-size="28.5" style="font-family:'Liberation Sans', sans-serif" fill="#000">3</text>
<text transform="translate(467.17,484.30) scale(1.0000,1.0400)" font-size="28.5" style="font-family:'Liberation Sans', sans-serif" fill="#000">4</text>
<text transform="translate(542.37,484.30) scale(1.0000,1.0400)" font-size="28.5" style="font-family:'Liberation Sans', sans-serif" fill="#000">5</text>
<text transform="translate(617.57,484.30) scale(1.0000,1.0400)" font-size="28.5" style="font-family:'Liberation Sans', sans-serif" fill="#000">6</text>
<text transform="translate(692.77,484.30) scale(1.0000,1.0400)" font-size="28.5" style="font-family:'Liberation Sans', sans-serif" fill="#000">7</text>
<text transform="translate(67.80,600.90) scale(1.0000,1.0400)" x="15.85" y="0" font-size="28.5" style="font-family:'Liberation Sans', sans-serif" fill="#000">0</text>
<use href="#one" transform="translate(67.80,600.90) scale(0.01392,-0.01392)" fill="#000"/>
<text transform="translate(98.60,587.20) scale(1.0000,1.0400)" x="0.00 15.12" y="0" font-size="17" style="font-family:'Liberation Sans', sans-serif" fill="#000">-0</text>
<use href="#one" transform="translate(104.26,587.20) scale(0.00830,-0.00830)" fill="#000"/>
<text transform="translate(67.80,684.12) scale(1.0000,1.0400)" x="15.85" y="0" font-size="28.5" style="font-family:'Liberation Sans', sans-serif" fill="#000">0</text>
<use href="#one" transform="translate(67.80,684.12) scale(0.01392,-0.01392)" fill="#000"/>
<text transform="translate(98.60,670.42) scale(1.0000,1.0400)" x="0.00" y="0" font-size="17" style="font-family:'Liberation Sans', sans-serif" fill="#000">-</text>
<use href="#one" transform="translate(104.26,670.42) scale(0.00830,-0.00830)" fill="#000"/>
<use href="#one" transform="translate(113.72,670.42) scale(0.00830,-0.00830)" fill="#000"/>
<text transform="translate(67.80,767.34) scale(1.0000,1.0400)" x="15.85" y="0" font-size="28.5" style="font-family:'Liberation Sans', sans-serif" fill="#000">0</text>
<use href="#one" transform="translate(67.80,767.34) scale(0.01392,-0.01392)" fill="#000"/>
<text transform="translate(98.60,753.64) scale(1.0000,1.0400)" x="0.00 15.12" y="0" font-size="17" style="font-family:'Liberation Sans', sans-serif" fill="#000">-2</text>
<use href="#one" transform="translate(104.26,753.64) scale(0.00830,-0.00830)" fill="#000"/>
<text transform="translate(67.80,850.56) scale(1.0000,1.0400)" x="15.85" y="0" font-size="28.5" style="font-family:'Liberation Sans', sans-serif" fill="#000">0</text>
<use href="#one" transform="translate(67.80,850.56) scale(0.01392,-0.01392)" fill="#000"/>
<text transform="translate(98.60,836.86) scale(1.0000,1.0400)" x="0.00 15.12" y="0" font-size="17" style="font-family:'Liberation Sans', sans-serif" fill="#000">-3</text>
<use href="#one" transform="translate(104.26,836.86) scale(0.00830,-0.00830)" fill="#000"/>
<text transform="translate(67.80,933.78) scale(1.0000,1.0400)" x="15.85" y="0" font-size="28.5" style="font-family:'Liberation Sans', sans-serif" fill="#000">0</text>
<use href="#one" transform="translate(67.80,933.78) scale(0.01392,-0.01392)" fill="#000"/>
<text transform="translate(98.60,920.08) scale(1.0000,1.0400)" x="0.00 15.12" y="0" font-size="17" style="font-family:'Liberation Sans', sans-serif" fill="#000">-4</text>
<use href="#one" transform="translate(104.26,920.08) scale(0.00830,-0.00830)" fill="#000"/>
<text transform="translate(67.80,1017.00) scale(1.0000,1.0400)" x="15.85" y="0" font-size="28.5" style="font-family:'Liberation Sans', sans-serif" fill="#000">0</text>
<use href="#one" transform="translate(67.80,1017.00) scale(0.01392,-0.01392)" fill="#000"/>
<text transform="translate(98.60,1003.30) scale(1.0000,1.0400)" x="0.00 15.12" y="0" font-size="17" style="font-family:'Liberation Sans', sans-serif" fill="#000">-5</text>
<use href="#one" transform="translate(104.26,1003.30) scale(0.00830,-0.00830)" fill="#000"/>
<text transform="translate(167.79,1042.90) scale(1.0000,1.0400)" font-size="28.5" style="font-family:'Liberation Sans', sans-serif" fill="#000">0</text>
<use href="#one" transform="translate(243.03,1042.90) scale(0.01392,-0.01392)" fill="#000"/>
<text transform="translate(318.27,1042.90) scale(1.0000,1.0400)" font-size="28.5" style="font-family:'Liberation Sans', sans-serif" fill="#000">2</text>
<text transform="translate(393.51,1042.90) scale(1.0000,1.0400)" font-size="28.5" style="font-family:'Liberation Sans', sans-serif" fill="#000">3</text>
<text transform="translate(468.75,1042.90) scale(1.0000,1.0400)" font-size="28.5" style="font-family:'Liberation Sans', sans-serif" fill="#000">4</text>
<text transform="translate(543.99,1042.90) scale(1.0000,1.0400)" font-size="28.5" style="font-family:'Liberation Sans', sans-serif" fill="#000">5</text>
<text transform="translate(619.23,1042.90) scale(1.0000,1.0400)" font-size="28.5" style="font-family:'Liberation Sans', sans-serif" fill="#000">6</text>
<text transform="translate(694.47,1042.90) scale(1.0000,1.0400)" font-size="28.5" style="font-family:'Liberation Sans', sans-serif" fill="#000">7</text>
<text transform="translate(208.00,542.00) scale(1.0000,1.0400)" font-size="36.6" style="font-family:'Liberation Sans', sans-serif" fill="#000">Carrier density (</text>
<text transform="translate(468.85,542.00) scale(1.0000,1.0400)" x="0.00 33.27" y="0" font-size="31.5" style="font-family:'Liberation Sans', sans-serif" fill="#000">x0</text>
<use href="#one" transform="translate(484.60,542.00) scale(0.01538,-0.01538)" fill="#000"/>
<text transform="translate(518.00,526.90) scale(1.0000,1.0400)" x="9.73" y="0" font-size="17.5" style="font-family:'Liberation Sans', sans-serif" fill="#000">4</text>
<use href="#one" transform="translate(518.00,526.90) scale(0.00854,-0.00854)" fill="#000"/>
<text transform="translate(548.40,542.00) scale(1.0000,1.0400)" font-size="36.6" style="font-family:'Liberation Sans', sans-serif" fill="#000">cm</text>
<text transform="translate(596.90,523.90) scale(1.0000,1.0400)" font-size="23" style="font-family:'Liberation Sans', sans-serif" fill="#000">-2</text>
<text transform="translate(618.90,542.00) scale(1.0000,1.0400)" font-size="36.6" style="font-family:'Liberation Sans', sans-serif" fill="#000">)</text>
<text transform="translate(209.80,1096.00) scale(1.0000,1.0400)" font-size="36.6" style="font-family:'Liberation Sans', sans-serif" fill="#000">Carrier density (</text>
<text transform="translate(470.65,1096.00) scale(1.0000,1.0400)" x="0.00 33.27" y="0" font-size="31.5" style="font-family:'Liberation Sans', sans-serif" fill="#000">x0</text>
<use href="#one" transform="translate(486.40,1096.00) scale(0.01538,-0.01538)" fill="#000"/>
<text transform="translate(519.80,1080.90) scale(1.0000,1.0400)" x="9.73" y="0" font-size="17.5" style="font-family:'Liberation Sans', sans-serif" fill="#000">4</text>
<use href="#one" transform="translate(519.80,1080.90) scale(0.00854,-0.00854)" fill="#000"/>
<text transform="translate(550.20,1096.00) scale(1.0000,1.0400)" font-size="36.6" style="font-family:'Liberation Sans', sans-serif" fill="#000">cm</text>
<text transform="translate(598.70,1077.90) scale(1.0000,1.0400)" font-size="23" style="font-family:'Liberation Sans', sans-serif" fill="#000">-2</text>
<text transform="translate(620.70,1096.00) scale(1.0000,1.0400)" font-size="36.6" style="font-family:'Liberation Sans', sans-serif" fill="#000">)</text>
<text transform="translate(53.40,387.60) rotate(-90) scale(1,1.04)" font-size="36.6" style="font-family:&quot;Liberation Sans&quot;, sans-serif">Scattering time (s)</text>
<text transform="translate(48.70,931.80) rotate(-90) scale(1,1.04)" font-size="36.6" style="font-family:&quot;Liberation Sans&quot;, sans-serif">Scattering time (s)</text>
<text transform="translate(-1.45,42.00) scale(0.9540,1.0000)" font-size="55" style="font-family:'Liberation Sans', sans-serif" fill="#000" stroke="#000" stroke-width="0.6">(a)</text>
<text transform="translate(0.09,599.00) scale(1.0001,1.0000)" font-size="55" style="font-family:'Liberation Sans', sans-serif" fill="#000" stroke="#000" stroke-width="0.6">(b)</text>
<text transform="translate(460.06,91.20) scale(0.8994,1.0000)" font-size="55" style="font-family:'Liberation Sans', sans-serif" fill="#000" stroke="#000" stroke-width="0.6">4LG – 4K</text>
<text transform="translate(472.24,850.10) scale(0.8908,1.0000)" font-size="55" style="font-family:'Liberation Sans', sans-serif" fill="#000" stroke="#000" stroke-width="0.6">5LG – 4K</text>
<path d="M0.1,5.4C0.8,3.2 2.2,0.9 5.0,0.1L12.2,0L12.2,2.3L7.7,2.3L7.7,10.6C7.7,12.6 8.4,13.2 9.2,12.9C9.9,12.6 10.5,11.7 10.9,10.2L11.3,10.4C10.9,13.0 9.6,14.9 7.6,14.9C5.9,14.9 5.1,13.9 5.1,11.9L5.1,2.4C3.5,2.5 1.6,3.3 0.5,5.6Z" transform="translate(407.90,206.70) scale(1.0,1.0)" fill="#000"/>
<text transform="translate(420.35,230.10) scale(1.0000,1.0400)" font-size="20.5" style="font-family:'Liberation Sans', sans-serif" fill="#000">φ</text>
<path d="M0.1,5.4C0.8,3.2 2.2,0.9 5.0,0.1L12.2,0L12.2,2.3L7.7,2.3L7.7,10.6C7.7,12.6 8.4,13.2 9.2,12.9C9.9,12.6 10.5,11.7 10.9,10.2L11.3,10.4C10.9,13.0 9.6,14.9 7.6,14.9C5.9,14.9 5.1,13.9 5.1,11.9L5.1,2.4C3.5,2.5 1.6,3.3 0.5,5.6Z" transform="translate(407.90,252.40) scale(1.0,1.0)" fill="#000"/>
<text transform="translate(420.20,275.00) scale(1.0000,1.0400)" font-size="19.7" style="font-family:'Liberation Sans', sans-serif" fill="#000">i</text>
<path d="M0.1,5.4C0.8,3.2 2.2,0.9 5.0,0.1L12.2,0L12.2,2.3L7.7,2.3L7.7,10.6C7.7,12.6 8.4,13.2 9.2,12.9C9.9,12.6 10.5,11.7 10.9,10.2L11.3,10.4C10.9,13.0 9.6,14.9 7.6,14.9C5.9,14.9 5.1,13.9 5.1,11.9L5.1,2.4C3.5,2.5 1.6,3.3 0.5,5.6Z" transform="translate(407.90,298.20) scale(1.0,1.0)" fill="#000"/>
<text transform="translate(420.90,321.00) scale(1.0000,1.0400)" font-size="19.7" style="font-family:'Liberation Sans', sans-serif" fill="#000">tr</text>
<path d="M0.1,5.4C0.8,3.2 2.2,0.9 5.0,0.1L12.2,0L12.2,2.3L7.7,2.3L7.7,10.6C7.7,12.6 8.4,13.2 9.2,12.9C9.9,12.6 10.5,11.7 10.9,10.2L11.3,10.4C10.9,13.0 9.6,14.9 7.6,14.9C5.9,14.9 5.1,13.9 5.1,11.9L5.1,2.4C3.5,2.5 1.6,3.3 0.5,5.6Z" transform="translate(407.90,344.50) scale(1.0,1.05)" fill="#000"/>
<text transform="translate(420.50,347.50) scale(1.0000,1.0400)" font-size="19.0" style="font-family:'Liberation Sans', sans-serif" fill="#000">th</text>
<text transform="translate(436.80,368.50) scale(1.0000,1.0400)" font-size="20.5" style="font-family:'Liberation Sans', sans-serif" fill="#000">e-e</text>
<path d="M0.1,5.4C0.8,3.2 2.2,0.9 5.0,0.1L12.2,0L12.2,2.3L7.7,2.3L7.7,10.6C7.7,12.6 8.4,13.2 9.2,12.9C9.9,12.6 10.5,11.7 10.9,10.2L11.3,10.4C10.9,13.0 9.6,14.9 7.6,14.9C5.9,14.9 5.1,13.9 5.1,11.9L5.1,2.4C3.5,2.5 1.6,3.3 0.5,5.6Z" transform="translate(406.60,756.80) scale(1.0,1.0)" fill="#000"/>
<text transform="translate(418.95,780.20) scale(1.0000,1.0400)" font-size="20.5" style="font-family:'Liberation Sans', sans-serif" fill="#000">φ</text>
<path d="M0.1,5.4C0.8,3.2 2.2,0.9 5.0,0.1L12.2,0L12.2,2.3L7.7,2.3L7.7,10.6C7.7,12.6 8.4,13.2 9.2,12.9C9.9,12.6 10.5,11.7 10.9,10.2L11.3,10.4C10.9,13.0 9.6,14.9 7.6,14.9C5.9,14.9 5.1,13.9 5.1,11.9L5.1,2.4C3.5,2.5 1.6,3.3 0.5,5.6Z" transform="translate(406.60,802.10) scale(1.0,1.0)" fill="#000"/>
<text transform="translate(418.80,824.70) scale(1.0000,1.0400)" font-size="19.7" style="font-family:'Liberation Sans', sans-serif" fill="#000">i</text>
<path d="M0.1,5.4C0.8,3.2 2.2,0.9 5.0,0.1L12.2,0L12.2,2.3L7.7,2.3L7.7,10.6C7.7,12.6 8.4,13.2 9.2,12.9C9.9,12.6 10.5,11.7 10.9,10.2L11.3,10.4C10.9,13.0 9.6,14.9 7.6,14.9C5.9,14.9 5.1,13.9 5.1,11.9L5.1,2.4C3.5,2.5 1.6,3.3 0.5,5.6Z" transform="translate(406.60,848.10) scale(1.0,1.0)" fill="#000"/>
<text transform="translate(419.50,870.90) scale(1.0000,1.0400)" font-size="19.7" style="font-family:'Liberation Sans', sans-serif" fill="#000">tr</text>
<path d="M0.1,5.4C0.8,3.2 2.2,0.9 5.0,0.1L12.2,0L12.2,2.3L7.7,2.3L7.7,10.6C7.7,12.6 8.4,13.2 9.2,12.9C9.9,12.6 10.5,11.7 10.9,10.2L11.3,10.4C10.9,13.0 9.6,14.9 7.6,14.9C5.9,14.9 5.1,13.9 5.1,11.9L5.1,2.4C3.5,2.5 1.6,3.3 0.5,5.6Z" transform="translate(406.60,894.80) scale(1.0,1.05)" fill="#000"/>
<text transform="translate(419.10,897.80) scale(1.0000,1.0400)" font-size="19.0" style="font-family:'Liberation Sans', sans-serif" fill="#000">th</text>
<text transform="translate(435.40,918.80) scale(1.0000,1.0400)" font-size="20.5" style="font-family:'Liberation Sans', sans-serif" fill="#000">e-e</text>
<path d="M345.90,212.80H360.70M384.70,212.80H399.70" stroke="#000" stroke-width="2" stroke-dasharray="4.9 4.5"/>
<circle cx="373.70" cy="212.80" r="8.6" fill="#000"/>
<path d="M345.90,258.60H360.70M384.70,258.60H399.70" stroke="#ED1C24" stroke-width="2" stroke-dasharray="4.9 4.5"/>
<circle cx="373.70" cy="258.60" r="8.6" fill="#ED1C24"/>
<path d="M345.90,304.40H360.70M384.70,304.40H399.70" stroke="#3953A4" stroke-width="2" stroke-dasharray="4.9 4.5"/>
<circle cx="373.70" cy="304.40" r="8.6" fill="#3953A4"/>
<path d="M345.90,351.50H360.70M384.70,351.50H399.70" stroke="#F5821F" stroke-width="2" stroke-dasharray="4.9 4.5"/>
<circle cx="373.70" cy="351.50" r="8.6" fill="#F5821F"/>
<path d="M344.10,762.90H358.90M382.90,762.90H397.90" stroke="#000" stroke-width="2" stroke-dasharray="4.9 4.5"/>
<circle cx="371.90" cy="762.90" r="8.6" fill="#000"/>
<path d="M344.10,808.30H358.90M382.90,808.30H397.90" stroke="#ED1C24" stroke-width="2" stroke-dasharray="4.9 4.5"/>
<circle cx="371.90" cy="808.30" r="8.6" fill="#ED1C24"/>
<path d="M344.10,854.30H358.90M382.90,854.30H397.90" stroke="#3953A4" stroke-width="2" stroke-dasharray="4.9 4.5"/>
<circle cx="371.90" cy="854.30" r="8.6" fill="#3953A4"/>
<path d="M343.9,901.80H355M383.1,901.80H393" stroke="#F5821F" stroke-width="2"/>
<circle cx="371.90" cy="901.80" r="8.6" fill="#F5821F"/>
</svg></body></html>
